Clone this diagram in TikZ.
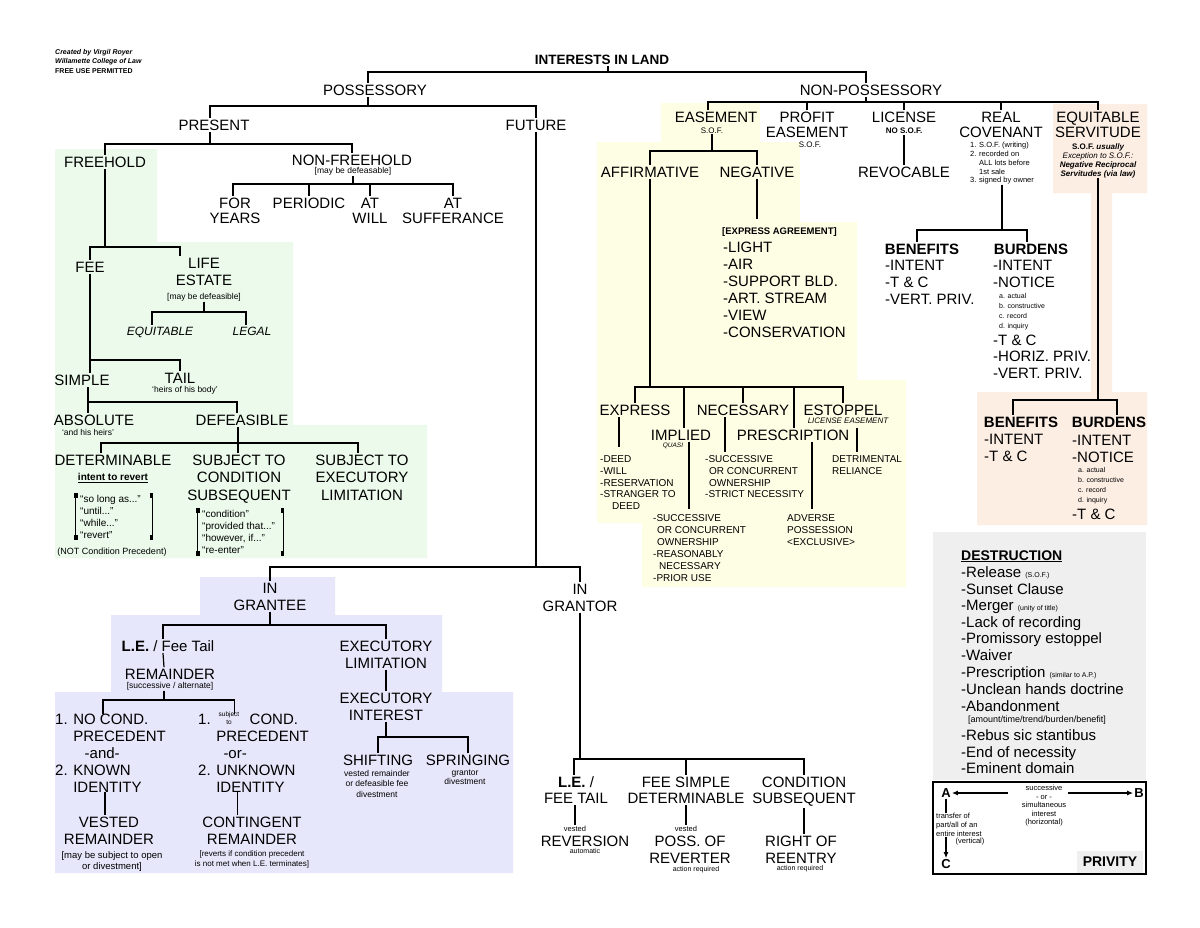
\documentclass[tikz,border=0pt]{standalone}
\usepackage{fontspec}
\setmainfont{Liberation Sans}
\usetikzlibrary{arrows.meta,calc}
\newcommand\fsz[2]{\fontsize{#1}{#2}\selectfont}
\definecolor{grn}{RGB}{235,250,234}
\definecolor{ylw}{RGB}{254,254,229}
\definecolor{slm}{RGB}{253,238,228}
\definecolor{lav}{RGB}{231,231,251}
\definecolor{gry}{RGB}{239,239,239}
\newcommand\tc[3]{\draw[ln] (#1) -- (#1 |- 0,#2) -| (#3);}
\begin{document}
\begin{tikzpicture}[x=1pt,y=-1pt,
  ln/.style={line width=1.2pt, black},
  lb/.style={align=center, inner sep=1.5pt, font=\fsz{15}{17}},
  lbn/.style={lb, anchor=north},
  lbt/.style={align=center, anchor=north, inner sep=1.5pt, font=\fsz{15}{15}},
  bh/.style={align=center, inner sep=1.5pt, font=\fsz{15}{17}\bfseries},
  sm/.style={align=center, inner sep=0.8pt, font=\fsz{8.5}{10}},
  lst/.style={anchor=north west, align=left, inner sep=0pt, font=\fsz{15}{17}},
  slst/.style={anchor=north west, align=left, inner sep=0pt, font=\fsz{10}{11.8}},
  dl/.style={anchor=base west, inner sep=0pt, font=\fsz{15}{17}},
  arr/.style={line width=1.2pt, -{Latex[length=6pt,width=5pt]}},
  brk/.style={line width=1pt}
]
\useasboundingbox (0,0) rectangle (1200,927);
\fill[white] (0,0) rectangle (1200,927);
% ---------- background regions ----------
\fill[grn] (55,149) -- (157,149) -- (157,242) -- (293,242) -- (293,425) -- (427,425) -- (427,558) -- (55,558) -- cycle;
\fill[ylw] (661,103) -- (760,103) -- (760,142) -- (800,142) -- (800,222) -- (857,222) -- (857,380) -- (906,380) -- (906,587) -- (642,587) -- (642,523) -- (597,523) -- (597,142) -- (661,142) -- cycle;
\fill[slm] (1053,104) -- (1147,104) -- (1147,193) -- (1112,193) -- (1112,392) -- (1147,392) -- (1147,525) -- (977,525) -- (977,392) -- (1091,392) -- (1091,193) -- (1053,193) -- cycle;
\fill[lav] (200,577) -- (335,577) -- (335,615) -- (442,615) -- (442,692) -- (513,692) -- (513,873) -- (55,873) -- (55,692) -- (111,692) -- (111,615) -- (200,615) -- cycle;
\fill[gry] (933,532) rectangle (1146,780);
\draw[line width=1.2pt, fill=white] (933,782) rectangle (1146,874);

% ---------- header ----------
\node[anchor=north west, align=left, inner sep=0pt, font=\fsz{7}{9.5}\bfseries] (hdr) at (55,49)
  {{\itshape Created by Virgil Royer}\\{\itshape Willamette College of Law}\\FREE USE PERMITTED};
\node[inner sep=1.5pt, font=\fsz{13.5}{15}\bfseries] (title) at (602,60) {INTERESTS IN LAND};
\coordinate (titleb) at ([xshift=6pt]title.south);

% ---------- level 1 ----------
\node[lb] (poss) at (375,90) {POSSESSORY};
\node[lb] (np) at (871,90) {NON-POSSESSORY};
\tc{titleb}{72}{[xshift=-7pt]poss.north}
\tc{titleb}{72}{[xshift=-5pt]np.north}

% ---------- possessory ----------
\node[lb] (pres) at (214,125) {PRESENT};
\node[lb] (fut) at (536,125) {FUTURE};
\coordinate (possb) at ([xshift=-7pt]poss.south);
\tc{possb}{106}{[xshift=-4pt]pres.north}
\tc{possb}{106}{fut.north}

\node[lb] (free) at (105,162) {FREEHOLD};
\node[lb] (nf) at (352,160) {NON-FREEHOLD};
\node[sm] (nfs) at (353,171.5) {[may be defeasable]};
\coordinate (presb) at ([xshift=-4pt]pres.south);
\tc{presb}{144}{free.north}
\tc{presb}{144}{nf.north}

\node[lbn, font=\fsz{15}{15.5}] (fy) at (235,196.1) {FOR\\YEARS};
\node[lb] (per) at (309,203) {PERIODIC};
\node[lbn, font=\fsz{15}{15.5}] (aw) at (370,196.1) {AT\\WILL};
\node[lbn, font=\fsz{15}{15.5}] (asuf) at (453,196.1) {AT\\SUFFERANCE};
\tc{nfs.south}{184}{[xshift=-2pt]fy.north}
\tc{nfs.south}{184}{per.north}
\tc{nfs.south}{184}{aw.north}
\tc{nfs.south}{184}{asuf.north}

% ---------- freehold subtree ----------
\node[lb] (fee) at (90,267) {FEE};
\node[lbn] (life) at (204,256.1) {LIFE\\ESTATE};
\node[sm] (lifes) at (204,297) {[may be defeasible]};
\tc{free.south}{247}{fee.north}
\tc{free.south}{247}{[xshift=-24pt]life.north}
\node[lb, font=\fsz{12}{14}\itshape, text depth=0pt] (equit) at (160,331) {EQUITABLE};
\node[lb, font=\fsz{12}{14}\itshape] (legal) at (252,331) {LEGAL};
\tc{lifes.south}{312}{[xshift=-8pt]equit.north}
\tc{lifes.south}{312}{[xshift=-6pt]legal.north}

\node[lb] (simple) at (82,380) {SIMPLE};
\node[lb] (tail) at (180,378) {TAIL};
\node[sm] (tails) at (185,390) {‘heirs of his body’};
\draw[ln] (fee.south) -- (fee.south |- simple.north);
\tc{fee.south}{360}{tail.north}

\node[lb] (absol) at (94,420) {ABSOLUTE};
\node[sm] (absols) at (88,432) {‘and his heirs’};
\node[lb] (defe) at (242,420) {DEFEASIBLE};
\coordinate (simb) at ([xshift=6pt]simple.south);
\draw[ln] (simb) -- (simb |- absol.north);
\tc{simb}{402}{[xshift=-5pt]defe.north}

\node[lb] (det) at (113,460) {DETERMINABLE};
\node[inner sep=1pt, font=\fsz{10}{12}\bfseries] (intent) at (113,478) {\underline{intent to revert}};
\node[lbn, font=\fsz{15}{17.5}] (scs) at (239,453.1) {SUBJECT TO\\CONDITION\\SUBSEQUENT};
\node[lbn, font=\fsz{15}{17.5}] (sel) at (362,453.1) {SUBJECT TO\\EXECUTORY\\LIMITATION};
\coordinate (defb) at ([xshift=-4pt]defe.south);
\tc{defb}{443}{[xshift=-12pt]det.north}
\tc{defb}{443}{[xshift=-1pt]scs.north}
\tc{defb}{443}{[xshift=-4pt]sel.north}

\node[slst, font=\fsz{10}{12}] (detl) at (80,495.3) {“so long as...”\\“until...”\\“while...”\\“revert”};
\draw[brk] (75,493) -- (75,540);
\fill (74,493) rectangle (77.5,498);
\fill (74,535) rectangle (77.5,540);
\draw[brk] (152,493) -- (152,540);
\fill (149.5,493) rectangle (153,498);
\fill (149.5,535) rectangle (153,540);
\node[inner sep=0.5pt, font=\fsz{9}{10}] (notcp) at (112,552) {(NOT Condition Precedent)};

\node[slst, font=\fsz{10}{12}] (scsl) at (202,510.3) {“condition”\\“provided that...”\\“however, if...”\\“re-enter”};
\draw[brk] (197,508) -- (197,556);
\fill (196,508) rectangle (199.5,513);
\fill (196,551) rectangle (199.5,556);
\draw[brk] (283,508) -- (283,556);
\fill (280.5,508) rectangle (284,513);
\fill (280.5,551) rectangle (284,556);

% ---------- future subtree ----------
\node[lbn] (ing) at (270,581.1) {IN\\GRANTEE};
\node[lbn] (ingr) at (580,582.1) {IN\\GRANTOR};
\tc{fut.south}{567}{ing.north}
\tc{fut.south}{567}{ingr.north}

\node[lb, text depth=0pt] (le) at (168,646) {\textbf{L.E.} / Fee Tail};
\node[lbn] (exlim) at (386,639.1) {EXECUTORY\\LIMITATION};
\tc{ing.south}{625}{[xshift=-5pt]le.north}
\tc{ing.south}{625}{exlim.north}
\node[lb] (rem) at (170,674) {REMAINDER};
\node[sm] (rems) at (170,686) {[successive / alternate]};
\draw[ln] ([xshift=-5pt]le.south) -- ([xshift=-6pt]rem.north);

\node[lst] (cone) at (55,713.5) {1. NO COND.\\\phantom{1. }PRECEDENT\\\hspace*{29.5pt}-and-\\2. KNOWN\\\phantom{2. }IDENTITY};
\node[lst] (ctwo) at (198,713.5) {1.\hspace{39pt}COND.\\\phantom{1. }PRECEDENT\\\hspace*{25.3pt}-or-\\2. UNKNOWN\\\phantom{2. }IDENTITY};
\node[align=center, inner sep=0pt, font=\fsz{6.5}{7.5}] (subto) at (229,718) {subject\\to};
\coordinate (remb) at ([xshift=-6pt]rems.south);
\tc{remb}{700}{[xshift=-7.5pt]cone.north}
\tc{remb}{700}{[xshift=-19pt]ctwo.north}

\node[lbn] (vest) at (109,815.1) {VESTED\\REMAINDER};
\node[sm, font=\fsz{9.5}{11}] (vests) at (112,861.5) {[may be subject to open\\or divestment]};
\coordinate (coneb) at ([xshift=-5.5pt]cone.south);
\draw[ln] (coneb) -- (coneb |- vest.north);
\node[lbn] (cont) at (252,815.1) {CONTINGENT\\REMAINDER};
\node[sm, font=\fsz{8}{10}] (conts) at (252,859) {[reverts if condition precedent\\is not met when L.E. terminates]};
\coordinate (ctwob) at ([xshift=-16pt]ctwo.south);
\draw[ln] (ctwob) -- (ctwob |- cont.north);

\node[lbn] (exint) at (386,691.1) {EXECUTORY\\INTEREST};
\draw[ln] (exlim.south) -- (exint.north);
\node[lb] (shft) at (378,760) {SHIFTING};
\node[sm, font=\fsz{8.5}{10.5}] (shfts) at (377,783.5) {vested remainder\\or defeasible fee\\divestment};
\node[lb] (sprg) at (468,760) {SPRINGING};
\node[sm, font=\fsz{8.5}{9.5}] (sprgs) at (465,777.5) {grantor\\divestment};
\tc{exint.south}{737}{shft.north}
\tc{exint.south}{737}{sprg.north}

% grantor
\node[lbn, font=\fsz{15}{16}] (le2) at (576,775.1) {\textbf{L.E.} /\\FEE TAIL};
\node[lbn, font=\fsz{15}{16}] (fsd) at (686,775.1) {FEE SIMPLE\\DETERMINABLE};
\node[lbn, font=\fsz{15}{16}] (csub) at (804,775.1) {CONDITION\\SUBSEQUENT};
\tc{ingr.south}{759}{[xshift=-2pt]le2.north}
\tc{ingr.south}{759}{fsd.north}
\tc{ingr.south}{759}{csub.north}
\node[inner sep=0.5pt, font=\fsz{7.5}{8}] (vone) at (575,828.5) {vested};
\node[inner sep=0.5pt, font=\fsz{7.5}{8}] (vtwo) at (686,828.5) {vested};
\draw[ln] (le2.south -| vone.north) -- (vone.north);
\draw[ln] (fsd.south -| vtwo.north) -- (vtwo.north);
\node[lb] (revn) at (585,841) {REVERSION};
\node[inner sep=0.5pt, font=\fsz{7}{8}] (autom) at (585,850.5) {automatic};
\node[lbn, font=\fsz{15}{17}] (posr) at (690,834.1) {POSS. OF\\REVERTER};
\node[inner sep=0.5pt, font=\fsz{7}{8}] (arone) at (696,869.5) {action required};
\node[lbn, font=\fsz{15}{17}] (roe) at (801,834.1) {RIGHT OF\\REENTRY};
\node[inner sep=0.5pt, font=\fsz{7}{8}] (artwo) at (800,868.5) {action required};
\draw[ln] (csub.south) -- (csub.south |- roe.north);

% ---------- non-possessory ----------
\node[lb] (eas) at (716,117) {EASEMENT};
\node[sm, font=\fsz{8}{9}] (eass) at (712,130.5) {S.O.F.};
\node[lbt] (prof) at (807,110.1) {PROFIT\\EASEMENT};
\node[sm, font=\fsz{8}{9}] (profs) at (810,145) {S.O.F.};
\node[lb] (lic) at (904,117) {LICENSE};
\node[sm, font=\fsz{8}{9}\bfseries] (lics) at (904,131) {NO S.O.F.};
\node[lb] (revoc) at (904,172) {REVOCABLE};
\draw[ln] (lics.south) -- (revoc.north);
\node[lbt] (real) at (1001,110.1) {REAL\\COVENANT};
\node[anchor=north west, align=left, inner sep=0pt, font=\fsz{7.5}{8.8}] (reall) at (970,142)
  {1. S.O.F. (writing)\\2. recorded on\\\phantom{2. }ALL lots before\\\phantom{2. }1st sale\\3. signed by owner};
\node[lbt] (eqs) at (1098,110.1) {EQUITABLE\\SERVITUDE};
\node[align=center, inner sep=0.5pt, font=\fsz{8}{9}] (eqsl) at (1098,160.5)
  {{\bfseries S.O.F. \itshape usually}\\{\itshape Exception to S.O.F.:}\\{\bfseries\itshape Negative Reciprocal}\\{\bfseries\itshape Servitudes (via law)}};
\coordinate (npb) at ([xshift=-5pt]np.south);
\tc{npb}{102}{[xshift=-8pt]eas.north}
\tc{npb}{102}{prof.north}
\tc{npb}{102}{lic.north}
\tc{npb}{102}{real.north}
\tc{npb}{102}{eqs.north}

% easement
\node[lb] (aff) at (650,172) {AFFIRMATIVE};
\node[lb] (neg) at (757,172) {NEGATIVE};
\tc{eass.south}{151}{aff.north}
\tc{eass.south}{151}{neg.north}
\node[anchor=north west, inner sep=0pt, font=\fsz{9.5}{11}\bfseries] (expag) at (722,227.5) {[EXPRESS AGREEMENT]};
\node[lst] (negl) at (723,241.8) {-LIGHT\\-AIR\\-SUPPORT BLD.\\-ART. STREAM\\-VIEW\\-CONSERVATION};
\draw[ln, shorten >=9pt] (neg.south) -- (neg.south |- expag.north);

\node[lb] (expr) at (635,410) {EXPRESS};
\node[lb] (nec) at (743,410) {NECESSARY};
\node[lb] (est) at (843,410) {ESTOPPEL};
\node[inner sep=0.5pt, font=\fsz{8}{9}\itshape] (ests) at (848,421) {LICENSE EASEMENT};
\node[lb] (imp) at (681,435) {IMPLIED};
\node[inner sep=0.5pt, font=\fsz{6.5}{7}\itshape] (quasi) at (673,446) {QUASI};
\node[lb] (presc) at (793,435) {PRESCRIPTION};
\tc{aff.south}{387}{expr.north}
\tc{aff.south}{387}{[xshift=3pt]imp.north}
\tc{aff.south}{387}{nec.north}
\tc{aff.south}{387}{[xshift=1pt]presc.north}
\tc{aff.south}{387}{est.north}

\node[slst] (exprl) at (600,455.4) {-DEED\\-WILL\\-RESERVATION\\-STRANGER TO\\\hspace*{12pt}DEED};
\node[slst] (necl) at (705,455.4) {-SUCCESSIVE\\\hspace*{4pt}OR CONCURRENT\\\hspace*{4pt}OWNERSHIP\\-STRICT NECESSITY};
\node[slst] (estl) at (832,455.4) {DETRIMENTAL\\RELIANCE};
\node[slst, font=\fsz{10}{11.9}] (impl) at (653,514.4) {-SUCCESSIVE\\\hspace*{4pt}OR CONCURRENT\\\hspace*{4pt}OWNERSHIP\\-REASONABLY\\\hspace*{6pt}NECESSARY\\-PRIOR USE};
\node[slst, font=\fsz{10}{11.9}] (prescl) at (787,514.4) {ADVERSE\\POSSESSION\\<EXCLUSIVE>};
\coordinate (exprb) at ([xshift=-16pt]expr.south);
\draw[ln, shorten >=8pt] (exprb) -- (exprb |- exprl.north);
\coordinate (necb) at ([xshift=-18pt]nec.south);
\draw[ln, shorten >=3pt] (necb) -- (necb |- necl.north);
\coordinate (estb) at ([xshift=9pt]ests.south);
\draw[ln, shorten >=3pt, shorten <=3pt] (estb) -- (estb |- estl.north);
\coordinate (impb) at ([xshift=8pt]imp.south);
\draw[ln, shorten >=5pt] (impb) -- (impb |- impl.north);
\coordinate (prscb) at ([xshift=19pt]presc.south);
\draw[ln, shorten >=5pt] (prscb) -- (prscb |- prescl.north);

% real covenant
\node[bh] (benone) at (922,249) {BENEFITS};
\node[bh] (burone) at (1031,249) {BURDENS};
\tc{reall.south}{230}{[xshift=-5pt]benone.north}
\tc{reall.south}{230}{[xshift=-4pt]burone.north}
\node[lst] (benonel) at (885,259.6) {-INTENT\\-T \& C\\-VERT. PRIV.};
\node[lst] (buronea) at (993,259.6) {-INTENT\\-NOTICE};
\node[anchor=north west, align=left, inner sep=0pt, font=\fsz{7}{10}] (burones) at (999,293.5) {a. actual\\b. constructive\\c. record\\d. inquiry};
\node[lst, font=\fsz{15}{16.5}] (buroneb) at (993,334.6) {-T \& C\\-HORIZ. PRIV.\\-VERT. PRIV.};

% equitable servitude
\node[bh] (bentwo) at (1021,422) {BENEFITS};
\node[bh] (burtwo) at (1109,422) {BURDENS};
\tc{eqsl.south}{400}{[xshift=-8pt]bentwo.north}
\tc{eqsl.south}{400}{[xshift=8pt]burtwo.north}
\node[lst] (bentwol) at (984,433.6) {-INTENT\\-T \& C};
\node[lst] (burtwoa) at (1072,434.6) {-INTENT\\-NOTICE};
\node[anchor=north west, align=left, inner sep=0pt, font=\fsz{7}{10}] (burtwos) at (1078,467.5) {a. actual\\b. constructive\\c. record\\d. inquiry};
\node[lst] (burtwob) at (1072,508.6) {-T \& C};

% ---------- destruction ----------
\node[dl, font=\fsz{14}{16}\bfseries] (dest) at (961,560) {\underline{DESTRUCTION}};
\node[dl] (d1) at (961,577.4) {-Release {\fsz{7}{8}(S.O.F.)}};
\node[dl] (d2) at (961,594.4) {-Sunset Clause};
\node[dl] (d3) at (961,610.4) {-Merger {\fsz{7}{8}(unity of title)}};
\node[dl] (d4) at (961,627.4) {-Lack of recording};
\node[dl] (d5) at (961,643.4) {-Promissory estoppel};
\node[dl] (d6) at (961,660.4) {-Waiver};
\node[dl] (d7) at (961,677.4) {-Prescription {\fsz{7}{8}(similar to A.P.)}};
\node[dl] (d8) at (961,694.4) {-Unclean hands doctrine};
\node[dl] (d9) at (961,711.4) {-Abandonment};
\node[dl, font=\fsz{9}{10}] (d10) at (968,722.3) {[amount/time/trend/burden/benefit]};
\node[dl] (d11) at (961,740.4) {-Rebus sic stantibus};
\node[dl] (d12) at (961,757.4) {-End of necessity};
\node[dl] (d13) at (961,773.4) {-Eminent domain};

% ---------- privity ----------
\node[inner sep=1pt, font=\fsz{13}{14}\bfseries] (pa) at (946,793) {A};
\node[inner sep=1pt, font=\fsz{13}{14}\bfseries] (pb) at (1139,793) {B};
\node[inner sep=1pt, font=\fsz{13}{14}\bfseries] (pc) at (946,864) {C};
\node[align=center, inner sep=0pt, font=\fsz{7.5}{8.5}] (hor) at (1044,806) {successive\\- or -\\simultaneous\\interest\\(horizontal)};
\coordinate (hl) at (1008,793);
\coordinate (hr) at (1068,793);
\draw[arr] (hl) -- (pa.east);
\draw[arr] (hr) -- (pb.west);
\node[anchor=north west, align=left, inner sep=0pt, font=\fsz{7.5}{9}] (vt) at (936,812.5) {transfer of\\part/all of an\\entire interest};
\node[inner sep=0pt, font=\fsz{7.5}{9}] (vv) at (970,842) {(vertical)};
\draw[line width=1.2pt] (pa.south) -- (pa.south |- vt.north);
\coordinate (vtop) at (946,837);
\draw[arr] (vtop) -- (pc.north);
\node[fill=gry, inner xsep=5.5pt, minimum height=22pt, font=\fsz{14}{16}\bfseries] (priv) at (1110,862) {PRIVITY};
\end{tikzpicture}
\end{document}
